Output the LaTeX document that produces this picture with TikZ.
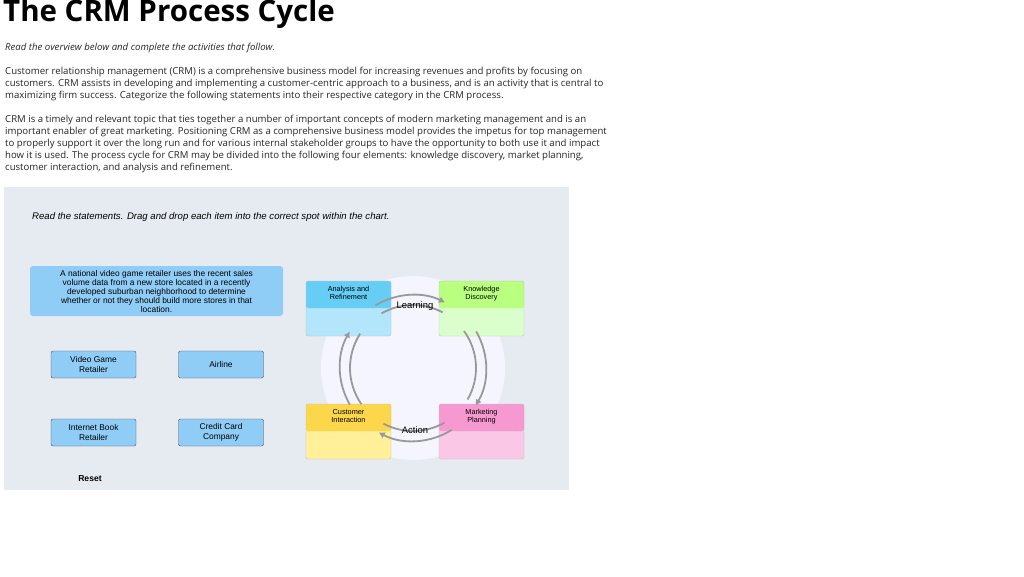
\documentclass[tikz,border=0pt]{standalone}
\usepackage{fontspec}
\usetikzlibrary{arrows.meta}
\setmainfont{Open Sans}
\newfontfamily\arialf{Liberation Sans}
\definecolor{panel}{HTML}{E6EBF2}
\definecolor{sky}{HTML}{8FCDF7}
\begin{document}
\begin{tikzpicture}[x=1pt,y=-1pt,
  body/.style={anchor=west,inner sep=0,font=\fontsize{9.6}{10}\selectfont,text=black!85},
  btn/.style={draw=black!70,fill=sky,rounded corners=2pt,minimum width=85pt,minimum height=27pt,align=center,font=\arialf\fontsize{8.4}{9.6}\selectfont,inner sep=0},
  cyc/.style={font=\arialf\fontsize{7.3}{8.3}\selectfont,align=center,anchor=north,inner sep=0},
  arc/.style={draw=black!40,line width=1.8pt},
  arw/.style={arc,-{Latex[length=6pt,width=7pt]}}]
\useasboundingbox (0,0) rectangle (1024,576);
\fill[white] (0,0) rectangle (1024,576);
\node[anchor=west,inner sep=0,font=\bfseries\fontsize{29.5}{32}\selectfont] (title) at (3,14) {The CRM Process Cycle};
\node[body,font=\itshape\fontsize{9.6}{10}\selectfont] (l0) at (5,48) {Read the overview below and complete the activities that follow.};
\node[body] (l1) at (5,72) {Customer relationship management (CRM) is a comprehensive business model for increasing revenues and profits by focusing on};
\node[body] (l2) at (5,84) {customers. CRM assists in developing and implementing a customer-centric approach to a business, and is an activity that is central to};
\node[body] (l3) at (5,96) {maximizing firm success. Categorize the following statements into their respective category in the CRM process.};
\node[body] (l4) at (5,120) {CRM is a timely and relevant topic that ties together a number of important concepts of modern marketing management and is an};
\node[body] (l5) at (5,132) {important enabler of great marketing. Positioning CRM as a comprehensive business model provides the impetus for top management};
\node[body] (l6) at (5,144) {to properly support it over the long run and for various internal stakeholder groups to have the opportunity to both use it and impact};
\node[body] (l7) at (5,156) {how it is used. The process cycle for CRM may be divided into the following four elements: knowledge discovery, market planning,};
\node[body] (l8) at (5,168) {customer interaction, and analysis and refinement.};
\fill[panel] (4,187) rectangle (569,490);
\node[anchor=west,inner sep=0,font=\arialf\itshape\fontsize{9.6}{11}\selectfont] (ins) at (32,217) {Read the statements.  Drag and drop each item into the correct spot within the chart.};
\node[fill=sky,rounded corners=3pt,minimum width=253pt,minimum height=50pt,align=center,inner sep=0,font=\arialf\fontsize{8.4}{9}\selectfont] (stmt) at (156.5,291) {A national video game retailer uses the recent sales\\volume data from a new store located in a recently\\developed suburban neighborhood to determine\\whether or not they should build more stores in that\\location.};
\node[btn] (b1) at (93.5,364.5) {Video Game\\Retailer};
\node[btn] (b2) at (221,364.5) {Airline};
\node[btn] (b3) at (93.5,432.5) {Internet Book\\Retailer};
\node[btn] (b4) at (221,432.5) {Credit Card\\Company};
\node[font=\arialf\bfseries\fontsize{8.6}{9}\selectfont] (reset) at (90,479) {Reset};
\fill[white!96!blue] (413,368) circle (92);
\coordinate (c) at (413,368);
\foreach \n/\x/\y/\ta/\tb/\tx in {ar/306/281/{cyan!60!white}/{cyan!30!white}/{Analysis and\\Refinement},
  kd/439/281/{lime!60!green!50!white}/{lime!40!green!20!white}/{Knowledge\\Discovery},
  ci/306/404/{yellow!60!orange!70!white}/{orange!30!yellow!40!white}/{Customer\\Interaction},
  mp/439/404/{magenta!40!white}/{magenta!22!white}/{Marketing\\Planning}}{
  \fill[\tb,rounded corners=2pt] (\x,\y) rectangle ++(85,55);
  \fill[\ta,rounded corners=2pt] (\x,\y) rectangle ++(85,27);
  \draw[black!25,rounded corners=2pt] (\x,\y) rectangle ++(85,55);
  \node[cyc] (\n) at (\x+42.5,\y+5) {\tx};
}
\draw[arw] (413,368) ++(-121:73) arc (-121:-64:73);
\draw[arc] (413,368) ++(-120:63) arc (-120:-62:63);
\draw[arw] (413,368) ++(-30:73) arc (-30:31:73);
\draw[arc] (413,368) ++(-36:63) arc (-36:30:63);
\draw[arw] (413,368) ++(58:73) arc (58:118:73);
\draw[arc] (413,368) ++(60:63) arc (60:118:63);
\draw[arw] (413,368) ++(150:73) arc (150:210:73);
\draw[arc] (413,368) ++(145:63) arc (145:213:63);
\node[font=\arialf\fontsize{9.4}{10}\selectfont,inner sep=0] (learn) at (415,306) {Learning};
\node[font=\arialf\fontsize{9.4}{10}\selectfont,inner sep=0] (act) at (415,430) {Action};
\end{tikzpicture}
\end{document}
